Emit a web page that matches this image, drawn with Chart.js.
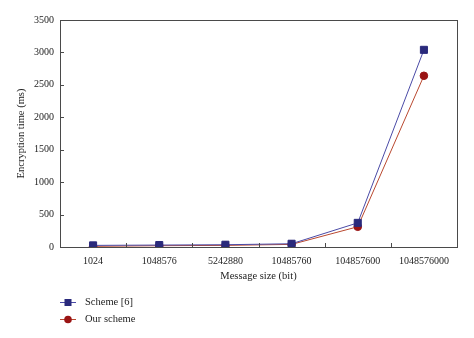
<!DOCTYPE html>
<html>
<head>
<meta charset="utf-8">
<script src="https://cdn.jsdelivr.net/npm/chart.js@4/dist/chart.umd.min.js"></script>
<style>
  html, body { margin: 0; padding: 0; background: #fff; }
  #wrap { position: relative; width: 474px; height: 338px; }
  #legend { position: absolute; left: 60px; top: 293px; font: 10.5px "Liberation Serif", serif; color: #222; }
  #legend div { height: 17px; display: flex; align-items: center; }
  #legend canvas { margin-right: 9px; }
</style>
</head>
<body>
<div id="wrap">
  <canvas id="chart" width="474" height="338"></canvas>
  <div id="legend"></div>
</div>
<script>
const categories = ['1024', '1048576', '5242880', '10485760', '104857600', '1048576000'];
const scheme6 = [25, 30, 35, 50, 372, 3040];
const ourScheme = [10, 20, 25, 40, 312, 2640];
const yTicks = [0, 500, 1000, 1500, 2000, 2500, 3000, 3500];

const serif = '"Liberation Serif", "Times New Roman", serif';
const axisColor = '#4a4a4a';

// frame around the plot plus inward tick marks
const framePlugin = {
  id: 'frame',
  afterDraw(chart) {
    const { ctx, chartArea: a, scales } = chart;
    ctx.save();
    ctx.strokeStyle = axisColor;
    ctx.lineWidth = 1;
    ctx.strokeRect(a.left + 0.5, a.top + 0.5, a.right - a.left, a.bottom - a.top);
    ctx.beginPath();
    yTicks.forEach(v => {
      const y = Math.round(scales.y.getPixelForValue(v)) + 0.5;
      ctx.moveTo(a.left, y);
      ctx.lineTo(a.left + 4, y);
    });
    const w = (a.right - a.left) / categories.length;
    for (let i = 1; i < categories.length; i++) {
      const x = Math.round(a.left + i * w) + 0.5;
      ctx.moveTo(x, a.bottom);
      ctx.lineTo(x, a.bottom - 4);
    }
    ctx.stroke();
    ctx.restore();
  }
};

const chart = new Chart(document.getElementById('chart'), {
  type: 'line',
  data: {
    labels: categories,
    datasets: [{
      label: 'Scheme [6]',
      data: scheme6,
      borderColor: '#4a4aa6',
      backgroundColor: '#2a2a7c',
      pointBackgroundColor: '#2a2a7c',
      pointBorderColor: '#2a2a7c',
      pointStyle: 'rect',
      pointRadius: 5,
      borderWidth: 1,
      tension: 0
    }, {
      label: 'Our scheme',
      data: ourScheme,
      borderColor: '#b9482f',
      backgroundColor: '#9a1414',
      pointBackgroundColor: '#9a1414',
      pointBorderColor: '#9a1414',
      pointStyle: 'circle',
      pointRadius: 3.8,
      borderWidth: 1,
      tension: 0
    }]
  },
  options: {
    responsive: false,
    animation: false,
    layout: { padding: { top: 20, right: 17, left: 12, bottom: 51 } },
    plugins: { legend: { display: false }, tooltip: { enabled: false } },
    scales: {
      x: {
        offset: true,
        grid: { display: false },
        border: { display: false },
        ticks: { color: '#222', font: { family: serif, size: 10 }, padding: 0, maxRotation: 0 },
        title: { display: true, text: 'Message size (bit)', color: '#222', font: { family: serif, size: 10.5 }, padding: { top: 8 } },
        afterFit(s) { s.height = 40; }
      },
      y: {
        min: 0,
        max: 3500,
        grid: { display: false, tickLength: 6 },
        border: { display: false },
        afterBuildTicks(s) { s.ticks = yTicks.map(v => ({ value: v })); },
        ticks: { color: '#222', font: { family: serif, size: 10 }, padding: 0, callback: v => String(v) },
        title: { display: true, text: 'Encryption time (ms)', color: '#222', font: { family: serif, size: 10.5 }, padding: { top: 3, bottom: 2 } },
        afterFit(s) { s.width = 48; }
      }
    }
  },
  plugins: [framePlugin]
});

// HTML legend under the chart
const legend = document.getElementById('legend');
chart.data.datasets.forEach(ds => {
  const row = document.createElement('div');
  const c = document.createElement('canvas');
  c.width = 16; c.height = 10;
  const g = c.getContext('2d');
  g.strokeStyle = ds.borderColor;
  g.beginPath(); g.moveTo(0, 5.5); g.lineTo(16, 5.5); g.stroke();
  g.fillStyle = ds.pointBackgroundColor;
  if (ds.pointStyle === 'rect') g.fillRect(4.5, 2, 7, 7);
  else { g.beginPath(); g.arc(8, 5.5, 3.8, 0, Math.PI * 2); g.fill(); }
  row.appendChild(c);
  const t = document.createElement('span');
  t.textContent = ds.label;
  row.appendChild(t);
  legend.appendChild(row);
});
</script>
</body>
</html>
